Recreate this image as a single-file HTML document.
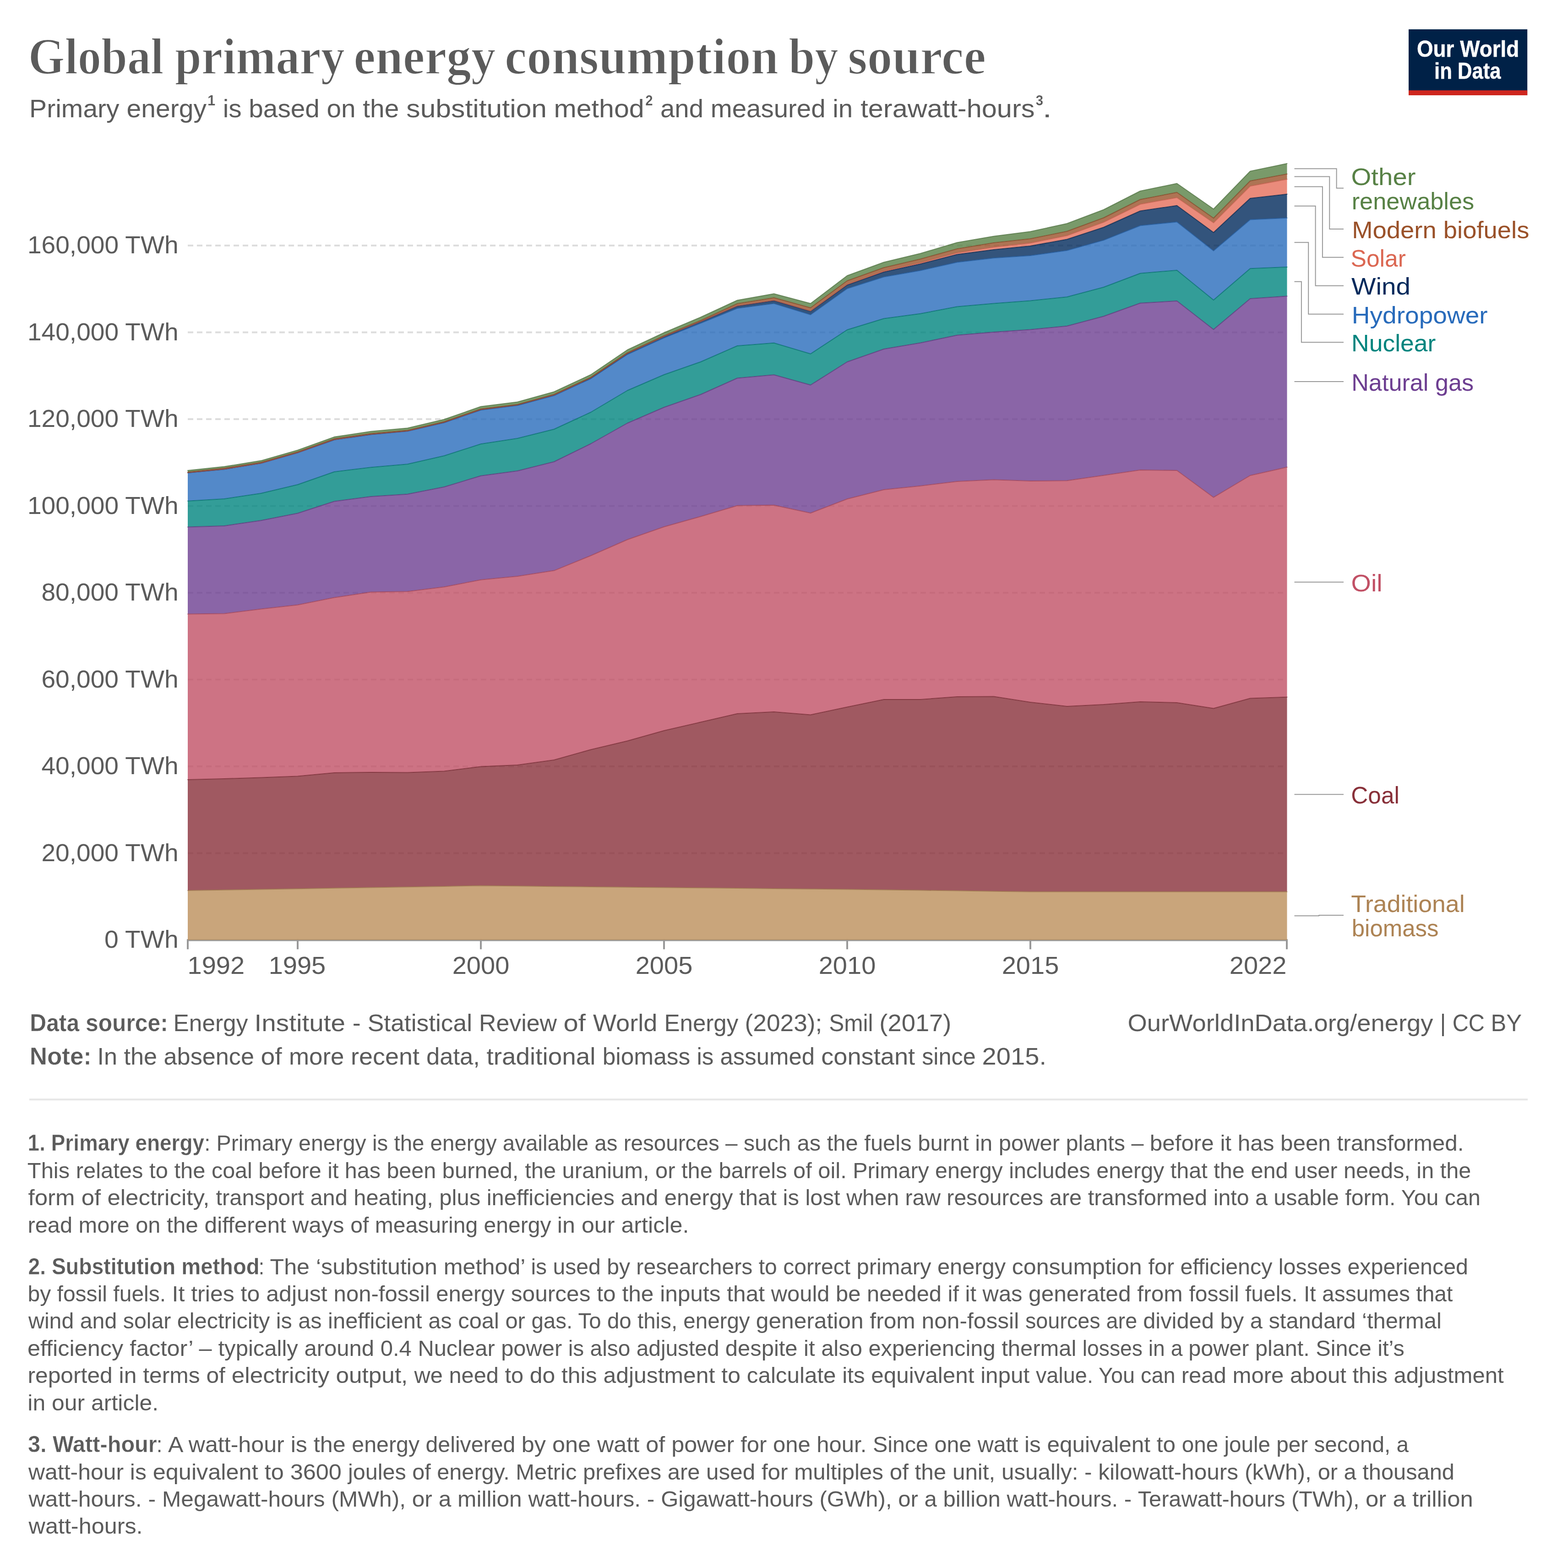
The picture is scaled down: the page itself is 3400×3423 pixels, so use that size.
<!DOCTYPE html>
<html lang="en"><head><meta charset="utf-8"><title>Global primary energy consumption by source</title>
<style>html,body{margin:0;padding:0;background:#fff;width:3400px;height:3423px;overflow:hidden}svg{display:block}</style></head><body>
<svg width="3400" height="3423" viewBox="0 0 3400 3423">
<rect x="0" y="0" width="3400" height="3423" fill="#ffffff"/>
<g stroke="#dddddd" stroke-width="4" stroke-dasharray="12,8" fill="none">
<line x1="410.0" y1="1862.5" x2="2810.0" y2="1862.5"/>
<line x1="410.0" y1="1673.0" x2="2810.0" y2="1673.0"/>
<line x1="410.0" y1="1483.5" x2="2810.0" y2="1483.5"/>
<line x1="410.0" y1="1294.0" x2="2810.0" y2="1294.0"/>
<line x1="410.0" y1="1104.5" x2="2810.0" y2="1104.5"/>
<line x1="410.0" y1="915.0" x2="2810.0" y2="915.0"/>
<line x1="410.0" y1="725.5" x2="2810.0" y2="725.5"/>
<line x1="410.0" y1="536.0" x2="2810.0" y2="536.0"/>
</g>
<g stroke="#999999" stroke-width="4" fill="none">
<line x1="408.0" y1="2052.5" x2="2812.0" y2="2052.5"/>
<line x1="410.0" y1="2050.4" x2="410.0" y2="2072.3"/>
<line x1="650.0" y1="2050.4" x2="650.0" y2="2072.3"/>
<line x1="1050.0" y1="2050.4" x2="1050.0" y2="2072.3"/>
<line x1="1450.0" y1="2050.4" x2="1450.0" y2="2072.3"/>
<line x1="1850.0" y1="2050.4" x2="1850.0" y2="2072.3"/>
<line x1="2250.0" y1="2050.4" x2="2250.0" y2="2072.3"/>
<line x1="2810.0" y1="2050.4" x2="2810.0" y2="2072.3"/>
</g>
<g>
<path d="M410.0,1944.09 L490.0,1942.78 L570.0,1941.46 L650.0,1940.14 L730.0,1938.83 L810.0,1937.51 L890.0,1936.19 L970.0,1934.88 L1050.0,1933.56 L1130.0,1934.35 L1210.0,1935.14 L1290.0,1935.93 L1370.0,1936.72 L1450.0,1937.51 L1530.0,1938.30 L1610.0,1939.09 L1690.0,1939.88 L1770.0,1940.67 L1850.0,1941.46 L1930.0,1942.51 L2010.0,1943.56 L2090.0,1944.62 L2170.0,1945.67 L2250.0,1946.72 L2330.0,1946.72 L2410.0,1946.72 L2490.0,1946.72 L2570.0,1946.72 L2650.0,1946.72 L2730.0,1946.72 L2810.5,1946.72 L2810.5,2052.00 L2730.0,2052.00 L2650.0,2052.00 L2570.0,2052.00 L2490.0,2052.00 L2410.0,2052.00 L2330.0,2052.00 L2250.0,2052.00 L2170.0,2052.00 L2090.0,2052.00 L2010.0,2052.00 L1930.0,2052.00 L1850.0,2052.00 L1770.0,2052.00 L1690.0,2052.00 L1610.0,2052.00 L1530.0,2052.00 L1450.0,2052.00 L1370.0,2052.00 L1290.0,2052.00 L1210.0,2052.00 L1130.0,2052.00 L1050.0,2052.00 L970.0,2052.00 L890.0,2052.00 L810.0,2052.00 L730.0,2052.00 L650.0,2052.00 L570.0,2052.00 L490.0,2052.00 L410.0,2052.00 Z" fill="#BC8E5A" fill-opacity="0.8" stroke="none"/>
<path d="M410.0,1702.00 L490.0,1700.00 L570.0,1697.50 L650.0,1694.50 L730.0,1687.00 L810.0,1686.00 L890.0,1686.50 L970.0,1683.50 L1050.0,1673.50 L1130.0,1670.00 L1210.0,1659.00 L1290.0,1636.50 L1370.0,1617.50 L1450.0,1595.00 L1530.0,1576.50 L1610.0,1558.00 L1690.0,1554.00 L1770.0,1560.50 L1850.0,1543.50 L1930.0,1527.00 L2010.0,1527.00 L2090.0,1521.00 L2170.0,1520.50 L2250.0,1533.00 L2330.0,1542.00 L2410.0,1538.00 L2490.0,1532.00 L2570.0,1534.00 L2650.0,1546.50 L2730.0,1524.50 L2810.5,1521.73 L2810.5,1946.72 L2730.0,1946.72 L2650.0,1946.72 L2570.0,1946.72 L2490.0,1946.72 L2410.0,1946.72 L2330.0,1946.72 L2250.0,1946.72 L2170.0,1945.67 L2090.0,1944.62 L2010.0,1943.56 L1930.0,1942.51 L1850.0,1941.46 L1770.0,1940.67 L1690.0,1939.88 L1610.0,1939.09 L1530.0,1938.30 L1450.0,1937.51 L1370.0,1936.72 L1290.0,1935.93 L1210.0,1935.14 L1130.0,1934.35 L1050.0,1933.56 L970.0,1934.88 L890.0,1936.19 L810.0,1937.51 L730.0,1938.83 L650.0,1940.14 L570.0,1941.46 L490.0,1942.78 L410.0,1944.09 Z" fill="#883039" fill-opacity="0.8" stroke="none"/>
<path d="M410.0,1340.50 L490.0,1339.50 L570.0,1329.50 L650.0,1320.50 L730.0,1304.50 L810.0,1292.50 L890.0,1291.25 L970.0,1281.25 L1050.0,1265.75 L1130.0,1258.00 L1210.0,1245.60 L1290.0,1213.00 L1370.0,1178.00 L1450.0,1150.00 L1530.0,1127.50 L1610.0,1103.75 L1690.0,1102.70 L1770.0,1120.00 L1850.0,1089.30 L1930.0,1069.00 L2010.0,1060.70 L2090.0,1051.00 L2170.0,1047.30 L2250.0,1050.00 L2330.0,1049.30 L2410.0,1037.70 L2490.0,1026.00 L2570.0,1027.00 L2650.0,1085.70 L2730.0,1038.00 L2810.5,1019.84 L2810.5,1521.73 L2730.0,1524.50 L2650.0,1546.50 L2570.0,1534.00 L2490.0,1532.00 L2410.0,1538.00 L2330.0,1542.00 L2250.0,1533.00 L2170.0,1520.50 L2090.0,1521.00 L2010.0,1527.00 L1930.0,1527.00 L1850.0,1543.50 L1770.0,1560.50 L1690.0,1554.00 L1610.0,1558.00 L1530.0,1576.50 L1450.0,1595.00 L1370.0,1617.50 L1290.0,1636.50 L1210.0,1659.00 L1130.0,1670.00 L1050.0,1673.50 L970.0,1683.50 L890.0,1686.50 L810.0,1686.00 L730.0,1687.00 L650.0,1694.50 L570.0,1697.50 L490.0,1700.00 L410.0,1702.00 Z" fill="#C15065" fill-opacity="0.8" stroke="none"/>
<path d="M410.0,1150.50 L490.0,1148.00 L570.0,1136.25 L650.0,1120.50 L730.0,1094.50 L810.0,1084.00 L890.0,1078.75 L970.0,1063.00 L1050.0,1038.75 L1130.0,1028.00 L1210.0,1008.00 L1290.0,968.75 L1370.0,923.75 L1450.0,889.25 L1530.0,861.25 L1610.0,825.50 L1690.0,818.25 L1770.0,840.50 L1850.0,790.00 L1930.0,762.00 L2010.0,748.50 L2090.0,731.75 L2170.0,725.00 L2250.0,719.50 L2330.0,711.75 L2410.0,690.50 L2490.0,661.75 L2570.0,657.00 L2650.0,719.25 L2730.0,652.00 L2810.5,646.40 L2810.5,1019.84 L2730.0,1038.00 L2650.0,1085.70 L2570.0,1027.00 L2490.0,1026.00 L2410.0,1037.70 L2330.0,1049.30 L2250.0,1050.00 L2170.0,1047.30 L2090.0,1051.00 L2010.0,1060.70 L1930.0,1069.00 L1850.0,1089.30 L1770.0,1120.00 L1690.0,1102.70 L1610.0,1103.75 L1530.0,1127.50 L1450.0,1150.00 L1370.0,1178.00 L1290.0,1213.00 L1210.0,1245.60 L1130.0,1258.00 L1050.0,1265.75 L970.0,1281.25 L890.0,1291.25 L810.0,1292.50 L730.0,1304.50 L650.0,1320.50 L570.0,1329.50 L490.0,1339.50 L410.0,1340.50 Z" fill="#6D3E91" fill-opacity="0.8" stroke="none"/>
<path d="M410.0,1093.75 L490.0,1089.00 L570.0,1077.00 L650.0,1058.00 L730.0,1030.00 L810.0,1020.25 L890.0,1013.25 L970.0,995.00 L1050.0,969.25 L1130.0,957.00 L1210.0,937.00 L1290.0,900.00 L1370.0,852.50 L1450.0,818.00 L1530.0,790.00 L1610.0,755.00 L1690.0,748.75 L1770.0,772.50 L1850.0,720.00 L1930.0,695.50 L2010.0,684.75 L2090.0,669.50 L2170.0,662.50 L2250.0,656.50 L2330.0,648.25 L2410.0,627.00 L2490.0,596.75 L2570.0,590.00 L2650.0,655.00 L2730.0,586.25 L2810.5,582.90 L2810.5,646.40 L2730.0,652.00 L2650.0,719.25 L2570.0,657.00 L2490.0,661.75 L2410.0,690.50 L2330.0,711.75 L2250.0,719.50 L2170.0,725.00 L2090.0,731.75 L2010.0,748.50 L1930.0,762.00 L1850.0,790.00 L1770.0,840.50 L1690.0,818.25 L1610.0,825.50 L1530.0,861.25 L1450.0,889.25 L1370.0,923.75 L1290.0,968.75 L1210.0,1008.00 L1130.0,1028.00 L1050.0,1038.75 L970.0,1063.00 L890.0,1078.75 L810.0,1084.00 L730.0,1094.50 L650.0,1120.50 L570.0,1136.25 L490.0,1148.00 L410.0,1150.50 Z" fill="#00847E" fill-opacity="0.8" stroke="none"/>
<path d="M410.0,1032.00 L490.0,1024.25 L570.0,1011.25 L650.0,988.25 L730.0,960.00 L810.0,948.50 L890.0,941.25 L970.0,922.50 L1050.0,895.00 L1130.0,885.00 L1210.0,863.50 L1290.0,826.75 L1370.0,773.75 L1450.0,737.50 L1530.0,705.50 L1610.0,673.00 L1690.0,662.50 L1770.0,687.00 L1850.0,630.00 L1930.0,604.50 L2010.0,590.50 L2090.0,572.50 L2170.0,563.25 L2250.0,558.00 L2330.0,546.75 L2410.0,524.40 L2490.0,492.50 L2570.0,484.50 L2650.0,547.50 L2730.0,479.50 L2810.5,475.83 L2810.5,582.90 L2730.0,586.25 L2650.0,655.00 L2570.0,590.00 L2490.0,596.75 L2410.0,627.00 L2330.0,648.25 L2250.0,656.50 L2170.0,662.50 L2090.0,669.50 L2010.0,684.75 L1930.0,695.50 L1850.0,720.00 L1770.0,772.50 L1690.0,748.75 L1610.0,755.00 L1530.0,790.00 L1450.0,818.00 L1370.0,852.50 L1290.0,900.00 L1210.0,937.00 L1130.0,957.00 L1050.0,969.25 L970.0,995.00 L890.0,1013.25 L810.0,1020.25 L730.0,1030.00 L650.0,1058.00 L570.0,1077.00 L490.0,1089.00 L410.0,1093.75 Z" fill="#286BBB" fill-opacity="0.8" stroke="none"/>
<path d="M410.0,1031.90 L490.0,1024.15 L570.0,1011.10 L650.0,988.05 L730.0,959.75 L810.0,948.20 L890.0,940.85 L970.0,921.95 L1050.0,894.20 L1130.0,884.00 L1210.0,862.10 L1290.0,825.05 L1370.0,771.55 L1450.0,734.70 L1530.0,701.90 L1610.0,668.00 L1690.0,656.25 L1770.0,679.50 L1850.0,622.00 L1930.0,593.75 L2010.0,576.25 L2090.0,555.50 L2170.0,545.00 L2250.0,537.00 L2330.0,522.50 L2410.0,496.25 L2490.0,460.50 L2570.0,448.75 L2650.0,507.50 L2730.0,433.00 L2810.5,423.83 L2810.5,475.83 L2730.0,479.50 L2650.0,547.50 L2570.0,484.50 L2490.0,492.50 L2410.0,524.40 L2330.0,546.75 L2250.0,558.00 L2170.0,563.25 L2090.0,572.50 L2010.0,590.50 L1930.0,604.50 L1850.0,630.00 L1770.0,687.00 L1690.0,662.50 L1610.0,673.00 L1530.0,705.50 L1450.0,737.50 L1370.0,773.75 L1290.0,826.75 L1210.0,863.50 L1130.0,885.00 L1050.0,895.00 L970.0,922.50 L890.0,941.25 L810.0,948.50 L730.0,960.00 L650.0,988.25 L570.0,1011.25 L490.0,1024.25 L410.0,1032.00 Z" fill="#00295B" fill-opacity="0.8" stroke="none"/>
<path d="M410.0,1031.80 L490.0,1024.05 L570.0,1011.00 L650.0,987.95 L730.0,959.65 L810.0,948.10 L890.0,940.75 L970.0,921.85 L1050.0,894.10 L1130.0,883.90 L1210.0,862.00 L1290.0,824.95 L1370.0,771.45 L1450.0,734.60 L1530.0,701.80 L1610.0,667.50 L1690.0,655.50 L1770.0,678.75 L1850.0,620.75 L1930.0,592.00 L2010.0,573.75 L2090.0,552.00 L2170.0,539.50 L2250.0,530.50 L2330.0,514.25 L2410.0,485.00 L2490.0,445.75 L2570.0,431.25 L2650.0,486.25 L2730.0,406.25 L2810.5,391.17 L2810.5,423.83 L2730.0,433.00 L2650.0,507.50 L2570.0,448.75 L2490.0,460.50 L2410.0,496.25 L2330.0,522.50 L2250.0,537.00 L2170.0,545.00 L2090.0,555.50 L2010.0,576.25 L1930.0,593.75 L1850.0,622.00 L1770.0,679.50 L1690.0,656.25 L1610.0,668.00 L1530.0,701.90 L1450.0,734.70 L1370.0,771.55 L1290.0,825.05 L1210.0,862.10 L1130.0,884.00 L1050.0,894.20 L970.0,921.95 L890.0,940.85 L810.0,948.20 L730.0,959.75 L650.0,988.05 L570.0,1011.10 L490.0,1024.15 L410.0,1031.90 Z" fill="#E56E5A" fill-opacity="0.8" stroke="none"/>
<path d="M410.0,1030.50 L490.0,1022.10 L570.0,1009.20 L650.0,986.40 L730.0,957.85 L810.0,946.55 L890.0,939.40 L970.0,920.50 L1050.0,892.70 L1130.0,882.90 L1210.0,860.85 L1290.0,823.90 L1370.0,770.05 L1450.0,732.95 L1530.0,699.60 L1610.0,663.00 L1690.0,650.00 L1770.0,672.00 L1850.0,613.00 L1930.0,584.25 L2010.0,565.50 L2090.0,543.25 L2170.0,530.00 L2250.0,521.25 L2330.0,505.00 L2410.0,475.50 L2490.0,435.50 L2570.0,420.00 L2650.0,476.25 L2730.0,395.00 L2810.5,379.80 L2810.5,391.17 L2730.0,406.25 L2650.0,486.25 L2570.0,431.25 L2490.0,445.75 L2410.0,485.00 L2330.0,514.25 L2250.0,530.50 L2170.0,539.50 L2090.0,552.00 L2010.0,573.75 L1930.0,592.00 L1850.0,620.75 L1770.0,678.75 L1690.0,655.50 L1610.0,667.50 L1530.0,701.80 L1450.0,734.60 L1370.0,771.45 L1290.0,824.95 L1210.0,862.00 L1130.0,883.90 L1050.0,894.10 L970.0,921.85 L890.0,940.75 L810.0,948.10 L730.0,959.65 L650.0,987.95 L570.0,1011.00 L490.0,1024.05 L410.0,1031.80 Z" fill="#9A5129" fill-opacity="0.8" stroke="none"/>
<path d="M410.0,1027.10 L490.0,1018.60 L570.0,1005.60 L650.0,982.60 L730.0,953.85 L810.0,941.75 L890.0,934.50 L970.0,915.50 L1050.0,887.50 L1130.0,877.50 L1210.0,855.25 L1290.0,818.00 L1370.0,763.75 L1450.0,726.25 L1530.0,692.50 L1610.0,655.50 L1690.0,641.25 L1770.0,662.50 L1850.0,601.75 L1930.0,572.50 L2010.0,553.25 L2090.0,529.50 L2170.0,515.75 L2250.0,505.50 L2330.0,488.00 L2410.0,457.75 L2490.0,417.00 L2570.0,400.50 L2650.0,456.25 L2730.0,373.75 L2810.5,356.93 L2810.5,379.80 L2730.0,395.00 L2650.0,476.25 L2570.0,420.00 L2490.0,435.50 L2410.0,475.50 L2330.0,505.00 L2250.0,521.25 L2170.0,530.00 L2090.0,543.25 L2010.0,565.50 L1930.0,584.25 L1850.0,613.00 L1770.0,672.00 L1690.0,650.00 L1610.0,663.00 L1530.0,699.60 L1450.0,732.95 L1370.0,770.05 L1290.0,823.90 L1210.0,860.85 L1130.0,882.90 L1050.0,892.70 L970.0,920.50 L890.0,939.40 L810.0,946.55 L730.0,957.85 L650.0,986.40 L570.0,1009.20 L490.0,1022.10 L410.0,1030.50 Z" fill="#578145" fill-opacity="0.8" stroke="none"/>
<path d="M410.0,1944.09 L490.0,1942.78 L570.0,1941.46 L650.0,1940.14 L730.0,1938.83 L810.0,1937.51 L890.0,1936.19 L970.0,1934.88 L1050.0,1933.56 L1130.0,1934.35 L1210.0,1935.14 L1290.0,1935.93 L1370.0,1936.72 L1450.0,1937.51 L1530.0,1938.30 L1610.0,1939.09 L1690.0,1939.88 L1770.0,1940.67 L1850.0,1941.46 L1930.0,1942.51 L2010.0,1943.56 L2090.0,1944.62 L2170.0,1945.67 L2250.0,1946.72 L2330.0,1946.72 L2410.0,1946.72 L2490.0,1946.72 L2570.0,1946.72 L2650.0,1946.72 L2730.0,1946.72 L2810.5,1946.72" fill="none" stroke="#9d774b" stroke-opacity="0.7" stroke-width="2" stroke-linecap="round" stroke-linejoin="round"/>
<path d="M410.0,1702.00 L490.0,1700.00 L570.0,1697.50 L650.0,1694.50 L730.0,1687.00 L810.0,1686.00 L890.0,1686.50 L970.0,1683.50 L1050.0,1673.50 L1130.0,1670.00 L1210.0,1659.00 L1290.0,1636.50 L1370.0,1617.50 L1450.0,1595.00 L1530.0,1576.50 L1610.0,1558.00 L1690.0,1554.00 L1770.0,1560.50 L1850.0,1543.50 L1930.0,1527.00 L2010.0,1527.00 L2090.0,1521.00 L2170.0,1520.50 L2250.0,1533.00 L2330.0,1542.00 L2410.0,1538.00 L2490.0,1532.00 L2570.0,1534.00 L2650.0,1546.50 L2730.0,1524.50 L2810.5,1521.73" fill="none" stroke="#722830" stroke-opacity="0.7" stroke-width="2" stroke-linecap="round" stroke-linejoin="round"/>
<path d="M410.0,1340.50 L490.0,1339.50 L570.0,1329.50 L650.0,1320.50 L730.0,1304.50 L810.0,1292.50 L890.0,1291.25 L970.0,1281.25 L1050.0,1265.75 L1130.0,1258.00 L1210.0,1245.60 L1290.0,1213.00 L1370.0,1178.00 L1450.0,1150.00 L1530.0,1127.50 L1610.0,1103.75 L1690.0,1102.70 L1770.0,1120.00 L1850.0,1089.30 L1930.0,1069.00 L2010.0,1060.70 L2090.0,1051.00 L2170.0,1047.30 L2250.0,1050.00 L2330.0,1049.30 L2410.0,1037.70 L2490.0,1026.00 L2570.0,1027.00 L2650.0,1085.70 L2730.0,1038.00 L2810.5,1019.84" fill="none" stroke="#a14355" stroke-opacity="0.7" stroke-width="2" stroke-linecap="round" stroke-linejoin="round"/>
<path d="M410.0,1150.50 L490.0,1148.00 L570.0,1136.25 L650.0,1120.50 L730.0,1094.50 L810.0,1084.00 L890.0,1078.75 L970.0,1063.00 L1050.0,1038.75 L1130.0,1028.00 L1210.0,1008.00 L1290.0,968.75 L1370.0,923.75 L1450.0,889.25 L1530.0,861.25 L1610.0,825.50 L1690.0,818.25 L1770.0,840.50 L1850.0,790.00 L1930.0,762.00 L2010.0,748.50 L2090.0,731.75 L2170.0,725.00 L2250.0,719.50 L2330.0,711.75 L2410.0,690.50 L2490.0,661.75 L2570.0,657.00 L2650.0,719.25 L2730.0,652.00 L2810.5,646.40" fill="none" stroke="#5b3479" stroke-opacity="0.7" stroke-width="2" stroke-linecap="round" stroke-linejoin="round"/>
<path d="M410.0,1093.75 L490.0,1089.00 L570.0,1077.00 L650.0,1058.00 L730.0,1030.00 L810.0,1020.25 L890.0,1013.25 L970.0,995.00 L1050.0,969.25 L1130.0,957.00 L1210.0,937.00 L1290.0,900.00 L1370.0,852.50 L1450.0,818.00 L1530.0,790.00 L1610.0,755.00 L1690.0,748.75 L1770.0,772.50 L1850.0,720.00 L1930.0,695.50 L2010.0,684.75 L2090.0,669.50 L2170.0,662.50 L2250.0,656.50 L2330.0,648.25 L2410.0,627.00 L2490.0,596.75 L2570.0,590.00 L2650.0,655.00 L2730.0,586.25 L2810.5,582.90" fill="none" stroke="#006e69" stroke-opacity="0.7" stroke-width="2" stroke-linecap="round" stroke-linejoin="round"/>
<path d="M410.0,1032.00 L490.0,1024.25 L570.0,1011.25 L650.0,988.25 L730.0,960.00 L810.0,948.50 L890.0,941.25 L970.0,922.50 L1050.0,895.00 L1130.0,885.00 L1210.0,863.50 L1290.0,826.75 L1370.0,773.75 L1450.0,737.50 L1530.0,705.50 L1610.0,673.00 L1690.0,662.50 L1770.0,687.00 L1850.0,630.00 L1930.0,604.50 L2010.0,590.50 L2090.0,572.50 L2170.0,563.25 L2250.0,558.00 L2330.0,546.75 L2410.0,524.40 L2490.0,492.50 L2570.0,484.50 L2650.0,547.50 L2730.0,479.50 L2810.5,475.83" fill="none" stroke="#215a9c" stroke-opacity="0.7" stroke-width="2" stroke-linecap="round" stroke-linejoin="round"/>
<path d="M410.0,1031.90 L490.0,1024.15 L570.0,1011.10 L650.0,988.05 L730.0,959.75 L810.0,948.20 L890.0,940.85 L970.0,921.95 L1050.0,894.20 L1130.0,884.00 L1210.0,862.10 L1290.0,825.05 L1370.0,771.55 L1450.0,734.70 L1530.0,701.90 L1610.0,668.00 L1690.0,656.25 L1770.0,679.50 L1850.0,622.00 L1930.0,593.75 L2010.0,576.25 L2090.0,555.50 L2170.0,545.00 L2250.0,537.00 L2330.0,522.50 L2410.0,496.25 L2490.0,460.50 L2570.0,448.75 L2650.0,507.50 L2730.0,433.00 L2810.5,423.83" fill="none" stroke="#00224c" stroke-opacity="0.7" stroke-width="2" stroke-linecap="round" stroke-linejoin="round"/>
<path d="M410.0,1031.80 L490.0,1024.05 L570.0,1011.00 L650.0,987.95 L730.0,959.65 L810.0,948.10 L890.0,940.75 L970.0,921.85 L1050.0,894.10 L1130.0,883.90 L1210.0,862.00 L1290.0,824.95 L1370.0,771.45 L1450.0,734.60 L1530.0,701.80 L1610.0,667.50 L1690.0,655.50 L1770.0,678.75 L1850.0,620.75 L1930.0,592.00 L2010.0,573.75 L2090.0,552.00 L2170.0,539.50 L2250.0,530.50 L2330.0,514.25 L2410.0,485.00 L2490.0,445.75 L2570.0,431.25 L2650.0,486.25 L2730.0,406.25 L2810.5,391.17" fill="none" stroke="#c05c4b" stroke-opacity="0.7" stroke-width="2" stroke-linecap="round" stroke-linejoin="round"/>
<path d="M410.0,1030.50 L490.0,1022.10 L570.0,1009.20 L650.0,986.40 L730.0,957.85 L810.0,946.55 L890.0,939.40 L970.0,920.50 L1050.0,892.70 L1130.0,882.90 L1210.0,860.85 L1290.0,823.90 L1370.0,770.05 L1450.0,732.95 L1530.0,699.60 L1610.0,663.00 L1690.0,650.00 L1770.0,672.00 L1850.0,613.00 L1930.0,584.25 L2010.0,565.50 L2090.0,543.25 L2170.0,530.00 L2250.0,521.25 L2330.0,505.00 L2410.0,475.50 L2490.0,435.50 L2570.0,420.00 L2650.0,476.25 L2730.0,395.00 L2810.5,379.80" fill="none" stroke="#814422" stroke-opacity="0.7" stroke-width="2" stroke-linecap="round" stroke-linejoin="round"/>
<path d="M410.0,1027.10 L490.0,1018.60 L570.0,1005.60 L650.0,982.60 L730.0,953.85 L810.0,941.75 L890.0,934.50 L970.0,915.50 L1050.0,887.50 L1130.0,877.50 L1210.0,855.25 L1290.0,818.00 L1370.0,763.75 L1450.0,726.25 L1530.0,692.50 L1610.0,655.50 L1690.0,641.25 L1770.0,662.50 L1850.0,601.75 L1930.0,572.50 L2010.0,553.25 L2090.0,529.50 L2170.0,515.75 L2250.0,505.50 L2330.0,488.00 L2410.0,457.75 L2490.0,417.00 L2570.0,400.50 L2650.0,456.25 L2730.0,373.75 L2810.5,356.93" fill="none" stroke="#496c3a" stroke-opacity="0.7" stroke-width="2" stroke-linecap="round" stroke-linejoin="round"/>
</g>
<g stroke="#999999" stroke-width="2" fill="none">
<path d="M2826.5,368.37 L2918.6,368.37 L2918.6,410.7 L2934.0,410.7"/>
<path d="M2826.5,385.48 L2903.3,385.48 L2903.3,500.0 L2934.0,500.0"/>
<path d="M2826.5,407.5 L2887.9,407.5 L2887.9,561.7 L2934.0,561.7"/>
<path d="M2826.5,449.83 L2872.6,449.83 L2872.6,623.7 L2934.0,623.7"/>
<path d="M2826.5,529.37 L2857.2,529.37 L2857.2,685.7 L2934.0,685.7"/>
<path d="M2826.5,614.65 L2841.9,614.65 L2841.9,747.3 L2934.0,747.3"/>
<path d="M2826.5,833.12 L2934.0,833.12"/>
<path d="M2826.5,1270.79 L2934.0,1270.79"/>
<path d="M2826.5,1734.23 L2934.0,1734.23"/>
<path d="M2826.5,1999.36 L2880.2,1999.36 L2880.2,1998.0 L2934.0,1998.0"/>
</g>
<line x1="64" y1="2400.3" x2="3336" y2="2400.3" stroke="#e7e7e7" stroke-width="4"/>
<rect x="3076" y="64" width="259.2" height="144" fill="#002147"/>
<rect x="3076" y="197.2" width="259.2" height="10.8" fill="#ce261e"/>
<text y="160.80" font-family="'Liberation Serif', serif" font-size="112" fill="#5b5b5b" stroke="#ffffff" stroke-width="2"><tspan x="61.83" font-weight="bold" textLength="295.69" lengthAdjust="spacingAndGlyphs">Global</tspan> <tspan x="381.77" font-weight="bold" textLength="371.16" lengthAdjust="spacingAndGlyphs">primary</tspan> <tspan x="772.22" font-weight="bold" textLength="310.34" lengthAdjust="spacingAndGlyphs">energy</tspan> <tspan x="1102.09" font-weight="bold" textLength="597.96" lengthAdjust="spacingAndGlyphs">consumption</tspan> <tspan x="1721.88" font-weight="bold" textLength="108.84" lengthAdjust="spacingAndGlyphs">by</tspan> <tspan x="1851.27" font-weight="bold" textLength="301.68" lengthAdjust="spacingAndGlyphs">source</tspan></text>
<text y="255.80" font-family="'Liberation Sans', sans-serif" font-size="56" fill="#5b5b5b"><tspan x="64.12" y="255.80" textLength="386.88" lengthAdjust="spacingAndGlyphs">Primary energy</tspan><tspan x="453.00" y="230.00" font-weight="bold" font-size="31.00" stroke="#ffffff" stroke-width="0.20" textLength="17.24" lengthAdjust="spacingAndGlyphs">1</tspan> <tspan x="486.66" y="255.80" textLength="384.51" lengthAdjust="spacingAndGlyphs">is based on the</tspan> <tspan x="887.32" y="255.80" textLength="306.79" lengthAdjust="spacingAndGlyphs">substitution</tspan> <tspan x="1209.43" y="255.80" textLength="197.29" lengthAdjust="spacingAndGlyphs">method</tspan><tspan x="1409.22" y="230.00" font-weight="bold" font-size="31.00" stroke="#ffffff" stroke-width="0.20" textLength="16.38" lengthAdjust="spacingAndGlyphs">2</tspan> <tspan x="1441.99" y="255.80" textLength="420.08" lengthAdjust="spacingAndGlyphs">and measured in</tspan> <tspan x="1879.20" y="255.80" textLength="380.33" lengthAdjust="spacingAndGlyphs">terawatt-hours</tspan><tspan x="2261.73" y="230.00" font-weight="bold" font-size="31.00" stroke="#ffffff" stroke-width="0.20" textLength="16.38" lengthAdjust="spacingAndGlyphs">3</tspan><tspan x="2276.42" y="255.80" textLength="20.49" lengthAdjust="spacingAndGlyphs">.</tspan></text>
<text y="553.10" font-family="'Liberation Sans', sans-serif" font-size="54" fill="#5b5b5b"><tspan x="59.93" textLength="329.75" lengthAdjust="spacingAndGlyphs">160,000 TWh</tspan></text>
<text y="2069.10" font-family="'Liberation Sans', sans-serif" font-size="54" fill="#5b5b5b"><tspan x="227.93" textLength="161.75" lengthAdjust="spacingAndGlyphs">0 TWh</tspan></text>
<text y="1879.60" font-family="'Liberation Sans', sans-serif" font-size="54" fill="#5b5b5b"><tspan x="90.48" textLength="299.20" lengthAdjust="spacingAndGlyphs">20,000 TWh</tspan></text>
<text y="1690.10" font-family="'Liberation Sans', sans-serif" font-size="54" fill="#5b5b5b"><tspan x="90.48" textLength="299.20" lengthAdjust="spacingAndGlyphs">40,000 TWh</tspan></text>
<text y="1500.60" font-family="'Liberation Sans', sans-serif" font-size="54" fill="#5b5b5b"><tspan x="90.48" textLength="299.20" lengthAdjust="spacingAndGlyphs">60,000 TWh</tspan></text>
<text y="1311.10" font-family="'Liberation Sans', sans-serif" font-size="54" fill="#5b5b5b"><tspan x="90.48" textLength="299.20" lengthAdjust="spacingAndGlyphs">80,000 TWh</tspan></text>
<text y="1121.60" font-family="'Liberation Sans', sans-serif" font-size="54" fill="#5b5b5b"><tspan x="59.93" textLength="329.75" lengthAdjust="spacingAndGlyphs">100,000 TWh</tspan></text>
<text y="932.10" font-family="'Liberation Sans', sans-serif" font-size="54" fill="#5b5b5b"><tspan x="59.93" textLength="329.75" lengthAdjust="spacingAndGlyphs">120,000 TWh</tspan></text>
<text y="742.60" font-family="'Liberation Sans', sans-serif" font-size="54" fill="#5b5b5b"><tspan x="59.93" textLength="329.75" lengthAdjust="spacingAndGlyphs">140,000 TWh</tspan></text>
<text y="2126.20" font-family="'Liberation Sans', sans-serif" font-size="54" fill="#5b5b5b"><tspan x="409.55" textLength="124.55" lengthAdjust="spacingAndGlyphs">1992</tspan></text>
<text y="2126.20" font-family="'Liberation Sans', sans-serif" font-size="54" fill="#5b5b5b"><tspan x="586.70" textLength="124.55" lengthAdjust="spacingAndGlyphs">1995</tspan></text>
<text y="2126.20" font-family="'Liberation Sans', sans-serif" font-size="54" fill="#5b5b5b"><tspan x="987.74" textLength="124.55" lengthAdjust="spacingAndGlyphs">2000</tspan></text>
<text y="2126.20" font-family="'Liberation Sans', sans-serif" font-size="54" fill="#5b5b5b"><tspan x="1387.74" textLength="124.55" lengthAdjust="spacingAndGlyphs">2005</tspan></text>
<text y="2126.20" font-family="'Liberation Sans', sans-serif" font-size="54" fill="#5b5b5b"><tspan x="1787.74" textLength="124.55" lengthAdjust="spacingAndGlyphs">2010</tspan></text>
<text y="2126.20" font-family="'Liberation Sans', sans-serif" font-size="54" fill="#5b5b5b"><tspan x="2187.74" textLength="124.55" lengthAdjust="spacingAndGlyphs">2015</tspan></text>
<text y="2126.20" font-family="'Liberation Sans', sans-serif" font-size="54" fill="#5b5b5b"><tspan x="2684.85" textLength="124.55" lengthAdjust="spacingAndGlyphs">2022</tspan></text>
<text y="404.00" font-family="'Liberation Sans', sans-serif" font-size="52" fill="#578145"><tspan x="2950.53" y="404.00" textLength="141.01" lengthAdjust="spacingAndGlyphs">Other</tspan> <tspan x="2951.68" y="457.40" textLength="267.52" lengthAdjust="spacingAndGlyphs">renewables</tspan></text>
<text y="519.70" font-family="'Liberation Sans', sans-serif" font-size="52" fill="#9A5129"><tspan x="2952.21" textLength="387.23" lengthAdjust="spacingAndGlyphs">Modern biofuels</tspan></text>
<text y="581.70" font-family="'Liberation Sans', sans-serif" font-size="52" fill="#DB6752"><tspan x="2949.52" textLength="120.30" lengthAdjust="spacingAndGlyphs">Solar</tspan></text>
<text y="643.40" font-family="'Liberation Sans', sans-serif" font-size="52" fill="#00295B"><tspan x="2951.00" textLength="128.88" lengthAdjust="spacingAndGlyphs">Wind</tspan></text>
<text y="705.70" font-family="'Liberation Sans', sans-serif" font-size="52" fill="#286BBB"><tspan x="2951.66" textLength="297.07" lengthAdjust="spacingAndGlyphs">Hydropower</tspan></text>
<text y="767.40" font-family="'Liberation Sans', sans-serif" font-size="52" fill="#00847E"><tspan x="2951.09" textLength="184.24" lengthAdjust="spacingAndGlyphs">Nuclear</tspan></text>
<text y="853.00" font-family="'Liberation Sans', sans-serif" font-size="52" fill="#6D3E91"><tspan x="2951.19" textLength="266.82" lengthAdjust="spacingAndGlyphs">Natural gas</tspan></text>
<text y="1290.70" font-family="'Liberation Sans', sans-serif" font-size="52" fill="#C15065"><tspan x="2950.55" textLength="68.18" lengthAdjust="spacingAndGlyphs">Oil</tspan></text>
<text y="1753.50" font-family="'Liberation Sans', sans-serif" font-size="52" fill="#883039"><tspan x="2950.33" textLength="105.49" lengthAdjust="spacingAndGlyphs">Coal</tspan></text>
<text y="1990.70" font-family="'Liberation Sans', sans-serif" font-size="52" fill="#AD8354"><tspan x="2950.17" y="1990.70" textLength="248.46" lengthAdjust="spacingAndGlyphs">Traditional</tspan> <tspan x="2951.76" y="2044.30" textLength="189.72" lengthAdjust="spacingAndGlyphs">biomass</tspan></text>
<text y="2250.80" font-family="'Liberation Sans', sans-serif" font-size="52" fill="#5b5b5b"><tspan x="65.21" font-weight="bold" font-size="53.56" stroke="#ffffff" stroke-width="0.43" textLength="301.58" lengthAdjust="spacingAndGlyphs">Data source:</tspan> <tspan x="378.62" textLength="162.73" lengthAdjust="spacingAndGlyphs">Energy</tspan> <tspan x="555.62" textLength="198.31" lengthAdjust="spacingAndGlyphs">Institute</tspan> <tspan x="769.66" textLength="18.04" lengthAdjust="spacingAndGlyphs">-</tspan> <tspan x="802.76" textLength="228.34" lengthAdjust="spacingAndGlyphs">Statistical</tspan> <tspan x="1045.92" textLength="170.12" lengthAdjust="spacingAndGlyphs">Review</tspan> <tspan x="1230.46" textLength="48.41" lengthAdjust="spacingAndGlyphs">of</tspan> <tspan x="1295.00" textLength="140.38" lengthAdjust="spacingAndGlyphs">World</tspan> <tspan x="1450.42" textLength="161.92" lengthAdjust="spacingAndGlyphs">Energy</tspan> <tspan x="1626.54" textLength="168.82" lengthAdjust="spacingAndGlyphs">(2023);</tspan> <tspan x="1810.16" textLength="96.49" lengthAdjust="spacingAndGlyphs">Smil</tspan> <tspan x="1920.37" textLength="157.05" lengthAdjust="spacingAndGlyphs">(2017)</tspan></text>
<text y="2323.80" font-family="'Liberation Sans', sans-serif" font-size="52" fill="#5b5b5b"><tspan x="64.73" font-weight="bold" font-size="53.56" stroke="#ffffff" stroke-width="0.43" textLength="135.24" lengthAdjust="spacingAndGlyphs">Note:</tspan> <tspan x="212.42" textLength="342.63" lengthAdjust="spacingAndGlyphs">In the absence</tspan> <tspan x="569.56" textLength="46.12" lengthAdjust="spacingAndGlyphs">of</tspan> <tspan x="631.04" textLength="120.42" lengthAdjust="spacingAndGlyphs">more</tspan> <tspan x="766.14" textLength="149.84" lengthAdjust="spacingAndGlyphs">recent</tspan> <tspan x="930.96" textLength="116.93" lengthAdjust="spacingAndGlyphs">data,</tspan> <tspan x="1062.50" textLength="237.99" lengthAdjust="spacingAndGlyphs">traditional</tspan> <tspan x="1315.74" textLength="191.42" lengthAdjust="spacingAndGlyphs">biomass</tspan> <tspan x="1521.44" textLength="36.92" lengthAdjust="spacingAndGlyphs">is</tspan> <tspan x="1572.56" textLength="206.56" lengthAdjust="spacingAndGlyphs">assumed</tspan> <tspan x="1793.26" textLength="204.86" lengthAdjust="spacingAndGlyphs">constant</tspan> <tspan x="2013.18" textLength="117.59" lengthAdjust="spacingAndGlyphs">since</tspan> <tspan x="2144.64" textLength="140.35" lengthAdjust="spacingAndGlyphs">2015.</tspan></text>
<text y="2250.80" font-family="'Liberation Sans', sans-serif" font-size="52" fill="#5b5b5b"><tspan x="2462.46" textLength="667.05" lengthAdjust="spacingAndGlyphs">OurWorldInData.org/energy</tspan> <tspan x="3144.62" textLength="13.07" lengthAdjust="spacingAndGlyphs">|</tspan> <tspan x="3171.66" textLength="70.16" lengthAdjust="spacingAndGlyphs">CC</tspan> <tspan x="3255.50" textLength="67.67" lengthAdjust="spacingAndGlyphs">BY</tspan></text>
<text y="2512.30" font-family="'Liberation Sans', sans-serif" font-size="48" fill="#5b5b5b"><tspan x="60.61" font-weight="bold" font-size="49.44" stroke="#ffffff" stroke-width="0.40" textLength="385.42" lengthAdjust="spacingAndGlyphs">1. Primary energy</tspan><tspan x="446.32" textLength="13.11" lengthAdjust="spacingAndGlyphs">:</tspan> <tspan x="472.54" textLength="327.10" lengthAdjust="spacingAndGlyphs">Primary energy</tspan> <tspan x="813.04" textLength="535.42" lengthAdjust="spacingAndGlyphs">is the energy available as</tspan> <tspan x="1361.64" textLength="248.81" lengthAdjust="spacingAndGlyphs">resources –</tspan> <tspan x="1623.68" textLength="690.38" lengthAdjust="spacingAndGlyphs">such as the fuels burnt in power</tspan> <tspan x="2327.64" textLength="169.74" lengthAdjust="spacingAndGlyphs">plants –</tspan> <tspan x="2510.82" textLength="685.64" lengthAdjust="spacingAndGlyphs">before it has been transformed.</tspan></text>
<text y="2571.80" font-family="'Liberation Sans', sans-serif" font-size="48" fill="#5b5b5b"><tspan x="59.78" textLength="388.60" lengthAdjust="spacingAndGlyphs">This relates to the</tspan> <tspan x="461.96" textLength="490.22" lengthAdjust="spacingAndGlyphs">coal before it has been</tspan> <tspan x="965.64" textLength="166.89" lengthAdjust="spacingAndGlyphs">burned,</tspan> <tspan x="1146.20" textLength="702.58" lengthAdjust="spacingAndGlyphs">the uranium, or the barrels of oil.</tspan> <tspan x="1862.34" textLength="327.38" lengthAdjust="spacingAndGlyphs">Primary energy</tspan> <tspan x="2203.14" textLength="339.21" lengthAdjust="spacingAndGlyphs">includes energy</tspan> <tspan x="2555.80" textLength="656.42" lengthAdjust="spacingAndGlyphs">that the end user needs, in the</tspan></text>
<text y="2631.20" font-family="'Liberation Sans', sans-serif" font-size="48" fill="#5b5b5b"><tspan x="61.50" textLength="395.83" lengthAdjust="spacingAndGlyphs">form of electricity,</tspan> <tspan x="471.50" textLength="474.30" lengthAdjust="spacingAndGlyphs">transport and heating,</tspan> <tspan x="959.34" textLength="382.62" lengthAdjust="spacingAndGlyphs">plus inefficiencies</tspan> <tspan x="1355.56" textLength="479.15" lengthAdjust="spacingAndGlyphs">and energy that is lost</tspan> <tspan x="1848.32" textLength="430.09" lengthAdjust="spacingAndGlyphs">when raw resources</tspan> <tspan x="2291.76" textLength="344.33" lengthAdjust="spacingAndGlyphs">are transformed</tspan> <tspan x="2649.68" textLength="583.13" lengthAdjust="spacingAndGlyphs">into a usable form. You can</tspan></text>
<text y="2690.50" font-family="'Liberation Sans', sans-serif" font-size="48" fill="#5b5b5b"><tspan x="60.44" textLength="289.92" lengthAdjust="spacingAndGlyphs">read more on</tspan> <tspan x="363.90" textLength="387.59" lengthAdjust="spacingAndGlyphs">the different ways</tspan> <tspan x="765.26" textLength="438.32" lengthAdjust="spacingAndGlyphs">of measuring energy</tspan> <tspan x="1216.86" textLength="287.47" lengthAdjust="spacingAndGlyphs">in our article.</tspan></text>
<text y="2781.60" font-family="'Liberation Sans', sans-serif" font-size="48" fill="#5b5b5b"><tspan x="61.48" font-weight="bold" font-size="49.44" stroke="#ffffff" stroke-width="0.40" textLength="321.69" lengthAdjust="spacingAndGlyphs">2. Substitution</tspan> <tspan x="396.24" font-weight="bold" font-size="49.44" stroke="#ffffff" stroke-width="0.40" textLength="170.31" lengthAdjust="spacingAndGlyphs">method</tspan><tspan x="564.72" textLength="12.43" lengthAdjust="spacingAndGlyphs">:</tspan> <tspan x="589.58" textLength="365.22" lengthAdjust="spacingAndGlyphs">The ‘substitution</tspan> <tspan x="968.74" textLength="176.89" lengthAdjust="spacingAndGlyphs">method’</tspan> <tspan x="1159.44" textLength="697.74" lengthAdjust="spacingAndGlyphs">is used by researchers to correct</tspan> <tspan x="1870.54" textLength="325.65" lengthAdjust="spacingAndGlyphs">primary energy</tspan> <tspan x="2209.76" textLength="283.93" lengthAdjust="spacingAndGlyphs">consumption</tspan> <tspan x="2507.60" textLength="698.42" lengthAdjust="spacingAndGlyphs">for efficiency losses experienced</tspan></text>
<text y="2840.90" font-family="'Liberation Sans', sans-serif" font-size="48" fill="#5b5b5b"><tspan x="60.44" textLength="301.73" lengthAdjust="spacingAndGlyphs">by fossil fuels.</tspan> <tspan x="375.52" textLength="339.22" lengthAdjust="spacingAndGlyphs">It tries to adjust</tspan> <tspan x="728.64" textLength="373.51" lengthAdjust="spacingAndGlyphs">non-fossil energy</tspan> <tspan x="1115.78" textLength="554.26" lengthAdjust="spacingAndGlyphs">sources to the inputs that</tspan> <tspan x="1683.82" textLength="548.67" lengthAdjust="spacingAndGlyphs">would be needed if it was</tspan> <tspan x="2246.06" textLength="336.55" lengthAdjust="spacingAndGlyphs">generated from</tspan> <tspan x="2596.40" textLength="575.94" lengthAdjust="spacingAndGlyphs">fossil fuels. It assumes that</tspan></text>
<text y="2900.20" font-family="'Liberation Sans', sans-serif" font-size="48" fill="#5b5b5b"><tspan x="62.02" textLength="311.42" lengthAdjust="spacingAndGlyphs">wind and solar</tspan> <tspan x="386.86" textLength="315.79" lengthAdjust="spacingAndGlyphs">electricity is as</tspan> <tspan x="716.14" textLength="430.75" lengthAdjust="spacingAndGlyphs">inefficient as coal or</tspan> <tspan x="1160.46" textLength="477.12" lengthAdjust="spacingAndGlyphs">gas. To do this, energy</tspan> <tspan x="1650.76" textLength="574.42" lengthAdjust="spacingAndGlyphs">generation from non-fossil</tspan> <tspan x="2238.98" textLength="244.19" lengthAdjust="spacingAndGlyphs">sources are</tspan> <tspan x="2496.16" textLength="651.65" lengthAdjust="spacingAndGlyphs">divided by a standard ‘thermal</tspan></text>
<text y="2959.90" font-family="'Liberation Sans', sans-serif" font-size="48" fill="#5b5b5b"><tspan x="59.96" textLength="402.60" lengthAdjust="spacingAndGlyphs">efficiency factor’ –</tspan> <tspan x="476.50" textLength="422.32" lengthAdjust="spacingAndGlyphs">typically around 0.4</tspan> <tspan x="912.44" textLength="314.74" lengthAdjust="spacingAndGlyphs">Nuclear power</tspan> <tspan x="1240.74" textLength="329.83" lengthAdjust="spacingAndGlyphs">is also adjusted</tspan> <tspan x="1583.86" textLength="766.40" lengthAdjust="spacingAndGlyphs">despite it also experiencing thermal</tspan> <tspan x="2363.84" textLength="218.55" lengthAdjust="spacingAndGlyphs">losses in a</tspan> <tspan x="2595.27" textLength="471.45" lengthAdjust="spacingAndGlyphs">power plant. Since it’s</tspan></text>
<text y="3019.00" font-family="'Liberation Sans', sans-serif" font-size="48" fill="#5b5b5b"><tspan x="60.44" textLength="431.49" lengthAdjust="spacingAndGlyphs">reported in terms of</tspan> <tspan x="505.76" textLength="384.62" lengthAdjust="spacingAndGlyphs">electricity output,</tspan> <tspan x="904.62" textLength="238.50" lengthAdjust="spacingAndGlyphs">we need to</tspan> <tspan x="1156.66" textLength="460.24" lengthAdjust="spacingAndGlyphs">do this adjustment to</tspan> <tspan x="1630.76" textLength="617.43" lengthAdjust="spacingAndGlyphs">calculate its equivalent input</tspan> <tspan x="2261.90" textLength="304.76" lengthAdjust="spacingAndGlyphs">value. You can</tspan> <tspan x="2579.63" textLength="704.01" lengthAdjust="spacingAndGlyphs">read more about this adjustment</tspan></text>
<text y="3078.50" font-family="'Liberation Sans', sans-serif" font-size="48" fill="#5b5b5b"><tspan x="60.38" textLength="285.73" lengthAdjust="spacingAndGlyphs">in our article.</tspan></text>
<text y="3170.20" font-family="'Liberation Sans', sans-serif" font-size="48" fill="#5b5b5b"><tspan x="60.92" font-weight="bold" font-size="49.44" stroke="#ffffff" stroke-width="0.40" textLength="281.82" lengthAdjust="spacingAndGlyphs">3. Watt-hour</tspan><tspan x="341.72" textLength="12.69" lengthAdjust="spacingAndGlyphs">:</tspan> <tspan x="367.10" textLength="387.43" lengthAdjust="spacingAndGlyphs">A watt-hour is the</tspan> <tspan x="768.36" textLength="357.06" lengthAdjust="spacingAndGlyphs">energy delivered</tspan> <tspan x="1138.84" textLength="464.38" lengthAdjust="spacingAndGlyphs">by one watt of power</tspan> <tspan x="1617.20" textLength="275.15" lengthAdjust="spacingAndGlyphs">for one hour.</tspan> <tspan x="1905.96" textLength="317.53" lengthAdjust="spacingAndGlyphs">Since one watt</tspan> <tspan x="2236.94" textLength="329.98" lengthAdjust="spacingAndGlyphs">is equivalent to</tspan> <tspan x="2580.72" textLength="495.28" lengthAdjust="spacingAndGlyphs">one joule per second, a</tspan></text>
<text y="3229.60" font-family="'Liberation Sans', sans-serif" font-size="48" fill="#5b5b5b"><tspan x="62.02" textLength="257.88" lengthAdjust="spacingAndGlyphs">watt-hour is</tspan> <tspan x="333.76" textLength="412.17" lengthAdjust="spacingAndGlyphs">equivalent to 3600</tspan> <tspan x="759.94" textLength="352.81" lengthAdjust="spacingAndGlyphs">joules of energy.</tspan> <tspan x="1126.24" textLength="402.31" lengthAdjust="spacingAndGlyphs">Metric prefixes are</tspan> <tspan x="1542.14" textLength="842.38" lengthAdjust="spacingAndGlyphs">used for multiples of the unit, usually: -</tspan> <tspan x="2398.24" textLength="465.64" lengthAdjust="spacingAndGlyphs">kilowatt-hours (kWh),</tspan> <tspan x="2877.67" textLength="298.27" lengthAdjust="spacingAndGlyphs">or a thousand</tspan></text>
<text y="3289.00" font-family="'Liberation Sans', sans-serif" font-size="48" fill="#5b5b5b"><tspan x="62.52" textLength="277.64" lengthAdjust="spacingAndGlyphs">watt-hours. -</tspan> <tspan x="354.04" textLength="531.94" lengthAdjust="spacingAndGlyphs">Megawatt-hours (MWh),</tspan> <tspan x="899.76" textLength="239.97" lengthAdjust="spacingAndGlyphs">or a million</tspan> <tspan x="1153.52" textLength="275.85" lengthAdjust="spacingAndGlyphs">watt-hours. -</tspan> <tspan x="1443.16" textLength="1027.99" lengthAdjust="spacingAndGlyphs">Gigawatt-hours (GWh), or a billion watt-hours. -</tspan> <tspan x="2484.78" textLength="483.86" lengthAdjust="spacingAndGlyphs">Terawatt-hours (TWh),</tspan> <tspan x="2982.08" textLength="234.68" lengthAdjust="spacingAndGlyphs">or a trillion</tspan></text>
<text y="3347.50" font-family="'Liberation Sans', sans-serif" font-size="48" fill="#5b5b5b"><tspan x="62.55" textLength="249.00" lengthAdjust="spacingAndGlyphs">watt-hours.</tspan></text>
<text y="123.50" font-family="'Liberation Sans', sans-serif" font-size="49" fill="#ffffff"><tspan x="3093.88" font-weight="bold" font-size="50.47" stroke="#ffffff" stroke-width="0.50" textLength="223.49" lengthAdjust="spacingAndGlyphs">Our World</tspan></text>
<text y="171.70" font-family="'Liberation Sans', sans-serif" font-size="49" fill="#ffffff"><tspan x="3132.11" font-weight="bold" font-size="50.47" stroke="#ffffff" stroke-width="0.50" textLength="145.39" lengthAdjust="spacingAndGlyphs">in Data</tspan></text>
</svg></body></html>
